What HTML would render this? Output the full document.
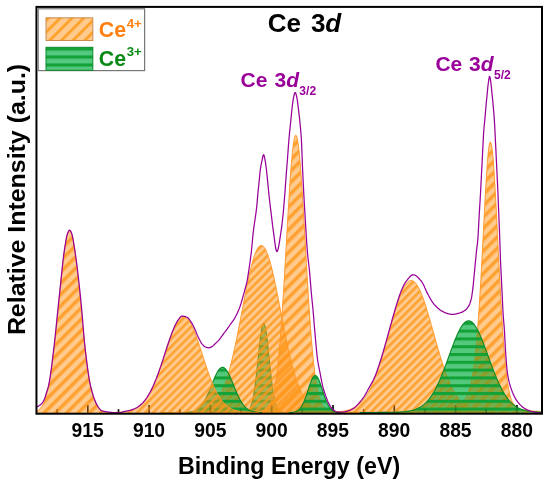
<!DOCTYPE html>
<html><head><meta charset="utf-8"><title>Ce 3d XPS</title>
<style>html,body{margin:0;padding:0;background:#fff}svg{display:block}</style></head>
<body><svg width="550" height="488" viewBox="0 0 550 488">
<rect width="550" height="488" fill="#fff"/>
<defs><pattern id="hn1" width="8.0" height="8.0" patternUnits="userSpaceOnUse" patternTransform="rotate(-45) translate(0,1.43)"><rect x="0" y="0" width="8.0" height="3.5" fill="rgba(255,152,20,0.80)"/></pattern><pattern id="hn4" width="8.0" height="8.0" patternUnits="userSpaceOnUse" patternTransform="rotate(-45) translate(0,4.75)"><rect x="0" y="0" width="8.0" height="3.5" fill="rgba(255,152,20,0.80)"/></pattern><pattern id="hn6" width="8.0" height="8.0" patternUnits="userSpaceOnUse" patternTransform="rotate(-45) translate(0,5.46)"><rect x="0" y="0" width="8.0" height="3.5" fill="rgba(255,152,20,0.80)"/></pattern><pattern id="hb2" width="5.657" height="5.657" patternUnits="userSpaceOnUse" patternTransform="rotate(-45) translate(0,2.9)"><rect x="0" y="0" width="5.657" height="2.5" fill="rgba(255,152,20,0.80)"/></pattern><pattern id="hb3" width="5.657" height="5.657" patternUnits="userSpaceOnUse" patternTransform="rotate(-45) translate(0,1.0)"><rect x="0" y="0" width="5.657" height="2.5" fill="rgba(255,152,20,0.80)"/></pattern><pattern id="hb5" width="5.657" height="5.657" patternUnits="userSpaceOnUse" patternTransform="rotate(-45) translate(0,3.77)"><rect x="0" y="0" width="5.657" height="2.5" fill="rgba(255,152,20,0.80)"/></pattern><pattern id="hg" width="20" height="7.8" patternUnits="userSpaceOnUse" patternTransform="translate(0,2.0)"><rect x="0" y="0" width="20" height="3.1" fill="#12a238"/></pattern><clipPath id="plot"><rect x="36.45" y="6.9" width="505.55" height="406.8"/></clipPath><pattern id="hl" width="8.27" height="8.27" patternUnits="userSpaceOnUse" patternTransform="rotate(-45) translate(0,4.35)"><rect x="0" y="0" width="8.27" height="2.9" fill="rgba(255,152,20,0.80)"/></pattern><pattern id="hg2" width="20" height="8" patternUnits="userSpaceOnUse" patternTransform="translate(0,47.4)"><rect x="0" y="0" width="20" height="3.2" fill="#12a238"/></pattern></defs>
<line x1="57.1" y1="413.7" x2="57.1" y2="409.2" stroke="#000" stroke-width="1.6"/><line x1="87.8" y1="413.7" x2="87.8" y2="405.09999999999997" stroke="#000" stroke-width="1.6"/><line x1="118.5" y1="413.7" x2="118.5" y2="409.2" stroke="#000" stroke-width="1.6"/><line x1="149.1" y1="413.7" x2="149.1" y2="405.09999999999997" stroke="#000" stroke-width="1.6"/><line x1="179.8" y1="413.7" x2="179.8" y2="409.2" stroke="#000" stroke-width="1.6"/><line x1="210.4" y1="413.7" x2="210.4" y2="405.09999999999997" stroke="#000" stroke-width="1.6"/><line x1="241.1" y1="413.7" x2="241.1" y2="409.2" stroke="#000" stroke-width="1.6"/><line x1="271.7" y1="413.7" x2="271.7" y2="405.09999999999997" stroke="#000" stroke-width="1.6"/><line x1="302.3" y1="413.7" x2="302.3" y2="409.2" stroke="#000" stroke-width="1.6"/><line x1="333.0" y1="413.7" x2="333.0" y2="405.09999999999997" stroke="#000" stroke-width="1.6"/><line x1="363.7" y1="413.7" x2="363.7" y2="409.2" stroke="#000" stroke-width="1.6"/><line x1="394.3" y1="413.7" x2="394.3" y2="405.09999999999997" stroke="#000" stroke-width="1.6"/><line x1="424.9" y1="413.7" x2="424.9" y2="409.2" stroke="#000" stroke-width="1.6"/><line x1="455.6" y1="413.7" x2="455.6" y2="405.09999999999997" stroke="#000" stroke-width="1.6"/><line x1="486.2" y1="413.7" x2="486.2" y2="409.2" stroke="#000" stroke-width="1.6"/><line x1="516.9" y1="413.7" x2="516.9" y2="405.09999999999997" stroke="#000" stroke-width="1.6"/>
<g clip-path="url(#plot)">
<path d="M241.4,413.7 L241.4,412.6 242.4,412.5 243.4,412.4 244.4,412.3 245.4,412.1 246.4,411.8 247.4,411.3 248.4,410.5 249.4,409.2 250.4,407.4 251.4,404.8 252.4,401.2 253.4,396.5 254.4,390.6 255.4,383.3 256.4,374.9 257.4,365.6 258.4,355.9 259.4,346.3 260.4,337.6 261.4,330.4 262.4,325.5 263.4,323.3 264.4,324.0 265.4,327.6 266.4,333.7 267.4,341.8 268.4,351.0 269.4,360.8 270.4,370.3 271.4,379.2 272.4,387.1 273.4,393.7 274.4,399.0 275.4,403.1 276.4,406.2 277.4,408.4 278.4,409.9 279.4,410.9 280.4,411.6 281.4,412.0 282.4,412.2 283.4,412.4 284.4,412.5 285.4,412.5 286.4,412.6 L286.4,413.7 Z" fill="rgba(20,180,80,0.72)"/><path d="M241.4,413.7 L241.4,412.6 242.4,412.5 243.4,412.4 244.4,412.3 245.4,412.1 246.4,411.8 247.4,411.3 248.4,410.5 249.4,409.2 250.4,407.4 251.4,404.8 252.4,401.2 253.4,396.5 254.4,390.6 255.4,383.3 256.4,374.9 257.4,365.6 258.4,355.9 259.4,346.3 260.4,337.6 261.4,330.4 262.4,325.5 263.4,323.3 264.4,324.0 265.4,327.6 266.4,333.7 267.4,341.8 268.4,351.0 269.4,360.8 270.4,370.3 271.4,379.2 272.4,387.1 273.4,393.7 274.4,399.0 275.4,403.1 276.4,406.2 277.4,408.4 278.4,409.9 279.4,410.9 280.4,411.6 281.4,412.0 282.4,412.2 283.4,412.4 284.4,412.5 285.4,412.5 286.4,412.6 L286.4,413.7 Z" fill="url(#hg)" stroke="#0b8a2a" stroke-width="1.1"/>
<path d="M183.4,413.7 L183.4,412.6 184.4,412.5 185.4,412.5 186.4,412.4 187.4,412.4 188.4,412.3 189.4,412.1 190.4,412.0 191.4,411.8 192.4,411.5 193.4,411.2 194.4,410.8 195.4,410.4 196.4,409.9 197.4,409.2 198.4,408.5 199.4,407.6 200.4,406.6 201.4,405.4 202.4,404.1 203.4,402.6 204.4,400.9 205.4,399.1 206.4,397.1 207.4,395.0 208.4,392.8 209.4,390.4 210.4,388.0 211.4,385.5 212.4,383.0 213.4,380.6 214.4,378.2 215.4,376.0 216.4,373.9 217.4,372.0 218.4,370.4 219.4,369.1 220.4,368.2 221.4,367.5 222.4,367.3 223.4,367.4 224.4,367.9 225.4,368.8 226.4,370.0 227.4,371.5 228.4,373.3 229.4,375.3 230.4,377.5 231.4,379.9 232.4,382.3 233.4,384.8 234.4,387.2 235.4,389.7 236.4,392.1 237.4,394.3 238.4,396.5 239.4,398.5 240.4,400.4 241.4,402.1 242.4,403.6 243.4,405.0 244.4,406.2 245.4,407.3 246.4,408.2 247.4,409.0 248.4,409.7 249.4,410.2 250.4,410.7 251.4,411.1 252.4,411.4 253.4,411.7 254.4,411.9 255.4,412.1 256.4,412.2 257.4,412.3 258.4,412.4 259.4,412.5 260.4,412.5 261.4,412.6 L261.4,413.7 Z" fill="rgba(3,207,107,0.45)"/>
<path d="M289.4,413.7 L289.4,412.6 290.4,412.5 291.4,412.4 292.4,412.3 293.4,412.2 294.4,412.0 295.4,411.7 296.4,411.3 297.4,410.8 298.4,410.1 299.4,409.2 300.4,408.1 301.4,406.7 302.4,405.0 303.4,403.0 304.4,400.6 305.4,398.0 306.4,395.2 307.4,392.2 308.4,389.1 309.4,386.0 310.4,383.1 311.4,380.5 312.4,378.3 313.4,376.7 314.4,375.8 315.4,375.5 316.4,376.0 317.4,377.1 318.4,378.9 319.4,381.3 320.4,384.0 321.4,386.9 322.4,390.0 323.4,393.1 324.4,396.1 325.4,398.8 326.4,401.4 327.4,403.6 328.4,405.5 329.4,407.1 330.4,408.4 331.4,409.5 332.4,410.3 333.4,411.0 334.4,411.4 335.4,411.8 336.4,412.1 337.4,412.2 338.4,412.4 339.4,412.5 340.4,412.5 341.4,412.6 L341.4,413.7 Z" fill="rgba(3,207,107,0.45)"/>
<path d="M360.4,413.7 L360.4,412.6 361.4,412.5 362.4,412.5 363.4,412.5 364.4,412.5 365.4,412.5 366.4,412.5 367.4,412.5 368.4,412.5 369.4,412.5 370.4,412.5 371.4,412.5 372.4,412.5 373.4,412.5 374.4,412.5 375.4,412.5 376.4,412.5 377.4,412.5 378.4,412.4 379.4,412.4 380.4,412.4 381.4,412.4 382.4,412.4 383.4,412.4 384.4,412.4 385.4,412.4 386.4,412.4 387.4,412.4 388.4,412.3 389.4,412.3 390.4,412.3 391.4,412.3 392.4,412.3 393.4,412.2 394.4,412.2 395.4,412.2 396.4,412.1 397.4,412.1 398.4,412.1 399.4,412.0 400.4,412.0 401.4,411.9 402.4,411.8 403.4,411.7 404.4,411.7 405.4,411.5 406.4,411.4 407.4,411.3 408.4,411.1 409.4,411.0 410.4,410.8 411.4,410.6 412.4,410.3 413.4,410.1 414.4,409.7 415.4,409.4 416.4,409.0 417.4,408.6 418.4,408.1 419.4,407.6 420.4,407.0 421.4,406.4 422.4,405.7 423.4,404.9 424.4,404.1 425.4,403.2 426.4,402.2 427.4,401.1 428.4,400.0 429.4,398.7 430.4,397.4 431.4,395.9 432.4,394.4 433.4,392.8 434.4,391.0 435.4,389.2 436.4,387.2 437.4,385.2 438.4,383.1 439.4,380.9 440.4,378.5 441.4,376.2 442.4,373.7 443.4,371.1 444.4,368.5 445.4,365.9 446.4,363.2 447.4,360.4 448.4,357.7 449.4,354.9 450.4,352.1 451.4,349.4 452.4,346.7 453.4,344.1 454.4,341.5 455.4,339.0 456.4,336.6 457.4,334.3 458.4,332.2 459.4,330.2 460.4,328.3 461.4,326.6 462.4,325.2 463.4,323.9 464.4,322.8 465.4,322.0 466.4,321.3 467.4,321.0 468.4,320.8 469.4,320.9 470.4,321.2 471.4,321.8 472.4,322.5 473.4,323.5 474.4,324.8 475.4,326.2 476.4,327.8 477.4,329.6 478.4,331.5 479.4,333.6 480.4,335.9 481.4,338.3 482.4,340.7 483.4,343.3 484.4,345.9 485.4,348.6 486.4,351.3 487.4,354.1 488.4,356.8 489.4,359.6 490.4,362.3 491.4,365.1 492.4,367.7 493.4,370.4 494.4,372.9 495.4,375.4 496.4,377.8 497.4,380.2 498.4,382.4 499.4,384.6 500.4,386.6 501.4,388.6 502.4,390.5 503.4,392.2 504.4,393.9 505.4,395.5 506.4,396.9 507.4,398.3 508.4,399.6 509.4,400.8 510.4,401.9 511.4,402.9 512.5,403.8 513.5,404.7 514.5,405.5 515.5,406.2 516.5,406.8 517.5,407.4 518.5,408.0 519.5,408.5 520.5,408.9 521.5,409.3 522.5,409.6 523.5,410.0 524.5,410.2 525.5,410.5 526.5,410.7 527.5,410.9 528.5,411.1 529.5,411.3 530.5,411.4 531.5,411.5 532.5,411.6 533.5,411.7 534.5,411.8 535.5,411.9 536.5,411.9 537.5,412.0 538.5,412.0 539.5,412.1 540.5,412.1 541.5,412.2 L541.5,413.7 Z" fill="rgba(3,207,107,0.45)"/>
<path d="M36.5,413.7 L36.5,411.2 37.5,410.7 38.5,410.1 39.5,409.2 40.5,408.2 41.5,406.9 42.5,405.3 43.5,403.4 44.5,401.0 45.5,398.2 46.5,394.9 47.5,391.0 48.5,386.5 49.5,381.3 50.5,375.5 51.5,369.0 52.5,361.7 53.5,353.8 54.5,345.2 55.5,336.1 56.5,326.5 57.5,316.5 58.5,306.2 59.5,295.9 60.5,285.7 61.5,275.9 62.5,266.5 63.5,257.8 64.5,250.0 65.5,243.5 66.5,237.9 67.5,233.8 68.5,231.4 69.5,230.2 70.5,230.9 71.5,233.0 72.5,236.5 73.5,241.7 74.5,248.0 75.5,255.4 76.5,263.8 77.5,273.0 78.5,282.7 79.5,292.9 80.5,303.1 81.5,313.4 82.5,323.5 83.5,333.2 84.5,342.5 85.5,351.3 86.5,359.6 87.5,367.4 88.5,374.5 89.5,380.6 90.5,385.6 91.5,389.7 92.5,393.8 93.5,397.3 94.5,400.2 95.5,402.7 96.5,404.8 97.5,406.5 98.5,407.8 99.5,409.0 100.5,409.9 101.5,410.7 102.5,411.1 103.5,411.5 104.5,411.9 105.5,412.1 106.5,412.3 107.5,412.4 108.5,412.5 109.5,412.6 L109.5,413.7 Z" fill="url(#hn1)"/><path d="M36.5,413.7 L36.5,411.2 37.5,410.7 38.5,410.1 39.5,409.2 40.5,408.2 41.5,406.9 42.5,405.3 43.5,403.4 44.5,401.0 45.5,398.2 46.5,394.9 47.5,391.0 48.5,386.5 49.5,381.3 50.5,375.5 51.5,369.0 52.5,361.7 53.5,353.8 54.5,345.2 55.5,336.1 56.5,326.5 57.5,316.5 58.5,306.2 59.5,295.9 60.5,285.7 61.5,275.9 62.5,266.5 63.5,257.8 64.5,250.0 65.5,243.5 66.5,237.9 67.5,233.8 68.5,231.4 69.5,230.2 70.5,230.9 71.5,233.0 72.5,236.5 73.5,241.7 74.5,248.0 75.5,255.4 76.5,263.8 77.5,273.0 78.5,282.7 79.5,292.9 80.5,303.1 81.5,313.4 82.5,323.5 83.5,333.2 84.5,342.5 85.5,351.3 86.5,359.6 87.5,367.4 88.5,374.5 89.5,380.6 90.5,385.6 91.5,389.7 92.5,393.8 93.5,397.3 94.5,400.2 95.5,402.7 96.5,404.8 97.5,406.5 98.5,407.8 99.5,409.0 100.5,409.9 101.5,410.7 102.5,411.1 103.5,411.5 104.5,411.9 105.5,412.1 106.5,412.3 107.5,412.4 108.5,412.5 109.5,412.6 L109.5,413.7 Z" fill="rgba(255,150,30,0.50)" stroke="#ff9a2e" stroke-width="1"/>
<path d="M161.4,413.7 L161.4,412.6 162.4,412.5 163.4,412.5 164.4,412.5 165.4,412.5 166.4,412.5 167.4,412.5 168.4,412.5 169.4,412.5 170.4,412.5 171.4,412.5 172.4,412.5 173.4,412.5 174.4,412.5 175.4,412.5 176.4,412.5 177.4,412.4 178.4,412.4 179.4,412.4 180.4,412.4 181.4,412.4 182.4,412.4 183.4,412.4 184.4,412.3 185.4,412.3 186.4,412.3 187.4,412.3 188.4,412.2 189.4,412.2 190.4,412.2 191.4,412.1 192.4,412.0 193.4,412.0 194.4,411.9 195.4,411.8 196.4,411.7 197.4,411.6 198.4,411.4 199.4,411.3 200.4,411.1 201.4,410.9 202.4,410.6 203.4,410.4 204.4,410.1 205.4,409.7 206.4,409.3 207.4,408.8 208.4,408.3 209.4,407.7 210.4,407.0 211.4,406.3 212.4,405.5 213.4,404.5 214.4,403.5 215.4,402.3 216.4,401.1 217.4,399.7 218.4,398.1 219.4,396.4 220.4,394.6 221.4,392.6 222.4,390.4 223.4,388.0 224.4,385.5 225.4,382.8 226.4,379.8 227.4,376.7 228.4,373.4 229.4,369.9 230.4,366.2 231.4,362.2 232.4,358.1 233.4,353.9 234.4,349.4 235.4,344.8 236.4,340.0 237.4,335.1 238.4,330.1 239.4,325.0 240.4,319.8 241.4,314.6 242.4,309.4 243.4,304.1 244.4,298.9 245.4,293.8 246.4,288.7 247.4,283.8 248.4,279.1 249.4,274.5 250.4,270.2 251.4,266.1 252.4,262.4 253.4,258.9 254.4,255.8 255.4,253.1 256.4,250.7 257.4,248.8 258.4,247.3 259.4,246.2 260.4,245.6 261.4,245.4 262.4,245.7 263.4,246.4 264.4,247.6 265.4,249.2 266.4,251.2 267.4,253.7 268.4,256.5 269.4,259.6 270.4,263.1 271.4,266.9 272.4,271.0 273.4,275.3 274.4,279.8 275.4,284.5 276.4,289.4 277.4,294.4 278.4,299.5 279.4,304.7 280.4,309.8 281.4,315.0 282.4,320.2 283.4,325.3 284.4,330.4 285.4,335.3 286.4,340.1 287.4,344.9 288.4,349.4 289.4,353.8 290.4,358.1 291.4,362.1 292.4,366.0 293.4,369.7 294.4,373.2 295.4,376.5 296.4,379.6 297.4,382.5 298.4,385.2 299.4,387.8 300.4,390.1 301.4,392.3 302.4,394.3 303.4,396.1 304.4,397.8 305.4,399.4 306.4,400.8 307.4,402.1 308.4,403.2 309.4,404.3 310.4,405.2 311.4,406.1 312.4,406.8 313.4,407.5 314.4,408.1 315.4,408.7 316.4,409.1 317.4,409.6 318.4,409.9 319.4,410.3 320.4,410.6 321.4,410.8 322.4,411.0 323.4,411.2 324.4,411.4 325.4,411.5 326.4,411.7 327.4,411.8 328.4,411.9 329.4,411.9 330.4,412.0 331.4,412.1 332.4,412.1 333.4,412.2 334.4,412.2 335.4,412.2 336.4,412.3 337.4,412.3 338.4,412.3 339.4,412.4 340.4,412.4 341.4,412.4 342.4,412.4 343.4,412.4 344.4,412.4 345.4,412.4 346.4,412.5 347.4,412.5 348.4,412.5 349.4,412.5 350.4,412.5 351.4,412.5 352.4,412.5 353.4,412.5 354.4,412.5 355.4,412.5 356.4,412.5 357.4,412.5 358.4,412.5 359.4,412.5 360.4,412.5 361.4,412.6 L361.4,413.7 Z" fill="url(#hb3)"/><path d="M161.4,413.7 L161.4,412.6 162.4,412.5 163.4,412.5 164.4,412.5 165.4,412.5 166.4,412.5 167.4,412.5 168.4,412.5 169.4,412.5 170.4,412.5 171.4,412.5 172.4,412.5 173.4,412.5 174.4,412.5 175.4,412.5 176.4,412.5 177.4,412.4 178.4,412.4 179.4,412.4 180.4,412.4 181.4,412.4 182.4,412.4 183.4,412.4 184.4,412.3 185.4,412.3 186.4,412.3 187.4,412.3 188.4,412.2 189.4,412.2 190.4,412.2 191.4,412.1 192.4,412.0 193.4,412.0 194.4,411.9 195.4,411.8 196.4,411.7 197.4,411.6 198.4,411.4 199.4,411.3 200.4,411.1 201.4,410.9 202.4,410.6 203.4,410.4 204.4,410.1 205.4,409.7 206.4,409.3 207.4,408.8 208.4,408.3 209.4,407.7 210.4,407.0 211.4,406.3 212.4,405.5 213.4,404.5 214.4,403.5 215.4,402.3 216.4,401.1 217.4,399.7 218.4,398.1 219.4,396.4 220.4,394.6 221.4,392.6 222.4,390.4 223.4,388.0 224.4,385.5 225.4,382.8 226.4,379.8 227.4,376.7 228.4,373.4 229.4,369.9 230.4,366.2 231.4,362.2 232.4,358.1 233.4,353.9 234.4,349.4 235.4,344.8 236.4,340.0 237.4,335.1 238.4,330.1 239.4,325.0 240.4,319.8 241.4,314.6 242.4,309.4 243.4,304.1 244.4,298.9 245.4,293.8 246.4,288.7 247.4,283.8 248.4,279.1 249.4,274.5 250.4,270.2 251.4,266.1 252.4,262.4 253.4,258.9 254.4,255.8 255.4,253.1 256.4,250.7 257.4,248.8 258.4,247.3 259.4,246.2 260.4,245.6 261.4,245.4 262.4,245.7 263.4,246.4 264.4,247.6 265.4,249.2 266.4,251.2 267.4,253.7 268.4,256.5 269.4,259.6 270.4,263.1 271.4,266.9 272.4,271.0 273.4,275.3 274.4,279.8 275.4,284.5 276.4,289.4 277.4,294.4 278.4,299.5 279.4,304.7 280.4,309.8 281.4,315.0 282.4,320.2 283.4,325.3 284.4,330.4 285.4,335.3 286.4,340.1 287.4,344.9 288.4,349.4 289.4,353.8 290.4,358.1 291.4,362.1 292.4,366.0 293.4,369.7 294.4,373.2 295.4,376.5 296.4,379.6 297.4,382.5 298.4,385.2 299.4,387.8 300.4,390.1 301.4,392.3 302.4,394.3 303.4,396.1 304.4,397.8 305.4,399.4 306.4,400.8 307.4,402.1 308.4,403.2 309.4,404.3 310.4,405.2 311.4,406.1 312.4,406.8 313.4,407.5 314.4,408.1 315.4,408.7 316.4,409.1 317.4,409.6 318.4,409.9 319.4,410.3 320.4,410.6 321.4,410.8 322.4,411.0 323.4,411.2 324.4,411.4 325.4,411.5 326.4,411.7 327.4,411.8 328.4,411.9 329.4,411.9 330.4,412.0 331.4,412.1 332.4,412.1 333.4,412.2 334.4,412.2 335.4,412.2 336.4,412.3 337.4,412.3 338.4,412.3 339.4,412.4 340.4,412.4 341.4,412.4 342.4,412.4 343.4,412.4 344.4,412.4 345.4,412.4 346.4,412.5 347.4,412.5 348.4,412.5 349.4,412.5 350.4,412.5 351.4,412.5 352.4,412.5 353.4,412.5 354.4,412.5 355.4,412.5 356.4,412.5 357.4,412.5 358.4,412.5 359.4,412.5 360.4,412.5 361.4,412.6 L361.4,413.7 Z" fill="rgba(255,150,30,0.50)" stroke="#ff9a2e" stroke-width="1"/>
<path d="M212.4,413.7 L212.4,412.6 213.4,412.5 214.4,412.5 215.4,412.5 216.4,412.5 217.4,412.5 218.4,412.5 219.4,412.5 220.4,412.5 221.4,412.5 222.4,412.5 223.4,412.5 224.4,412.5 225.4,412.5 226.4,412.4 227.4,412.4 228.4,412.4 229.4,412.4 230.4,412.4 231.4,412.4 232.4,412.4 233.4,412.4 234.4,412.4 235.4,412.3 236.4,412.3 237.4,412.3 238.4,412.3 239.4,412.3 240.4,412.3 241.4,412.2 242.4,412.2 243.4,412.2 244.4,412.2 245.4,412.1 246.4,412.1 247.4,412.1 248.4,412.1 249.4,412.0 250.4,412.0 251.4,412.0 252.4,411.9 253.4,411.9 254.4,411.8 255.4,411.8 256.4,411.7 257.4,411.6 258.4,411.5 259.4,411.4 260.4,411.3 261.4,411.1 262.4,410.8 263.4,410.5 264.4,410.1 265.4,409.5 266.4,408.8 267.4,407.9 268.4,406.6 269.4,405.1 270.4,403.1 271.4,400.5 272.4,397.4 273.4,393.5 274.4,388.8 275.4,383.1 276.4,376.3 277.4,368.4 278.4,359.2 279.4,348.7 280.4,336.8 281.4,323.7 282.4,309.2 283.4,293.7 284.4,277.3 285.4,260.2 286.4,242.7 287.4,225.2 288.4,208.1 289.4,191.9 290.4,176.9 291.4,163.6 292.4,152.5 293.4,143.9 294.4,138.1 295.4,135.3 296.4,135.6 297.4,139.0 298.4,145.4 299.4,154.5 300.4,166.1 301.4,179.8 302.4,195.0 303.4,211.5 304.4,228.7 305.4,246.2 306.4,263.6 307.4,280.6 308.4,296.9 309.4,312.2 310.4,326.4 311.4,339.3 312.4,350.9 313.4,361.1 314.4,370.1 315.4,377.8 316.4,384.3 317.4,389.8 318.4,394.4 319.4,398.1 320.4,401.1 321.4,403.5 322.4,405.4 323.4,406.9 324.4,408.1 325.4,409.0 326.4,409.7 327.4,410.2 328.4,410.6 329.4,410.9 330.4,411.1 331.4,411.3 332.4,411.4 333.4,411.6 334.4,411.7 335.4,411.7 336.4,411.8 337.4,411.8 338.4,411.9 339.4,411.9 340.4,412.0 341.4,412.0 342.4,412.0 343.4,412.1 344.4,412.1 345.4,412.1 346.4,412.2 347.4,412.2 348.4,412.2 349.4,412.2 350.4,412.2 351.4,412.3 352.4,412.3 353.4,412.3 354.4,412.3 355.4,412.3 356.4,412.3 357.4,412.4 358.4,412.4 359.4,412.4 360.4,412.4 361.4,412.4 362.4,412.4 363.4,412.4 364.4,412.4 365.4,412.4 366.4,412.5 367.4,412.5 368.4,412.5 369.4,412.5 370.4,412.5 371.4,412.5 372.4,412.5 373.4,412.5 374.4,412.5 375.4,412.5 376.4,412.5 377.4,412.5 378.4,412.5 379.4,412.6 L379.4,413.7 Z" fill="url(#hn4)"/><path d="M212.4,413.7 L212.4,412.6 213.4,412.5 214.4,412.5 215.4,412.5 216.4,412.5 217.4,412.5 218.4,412.5 219.4,412.5 220.4,412.5 221.4,412.5 222.4,412.5 223.4,412.5 224.4,412.5 225.4,412.5 226.4,412.4 227.4,412.4 228.4,412.4 229.4,412.4 230.4,412.4 231.4,412.4 232.4,412.4 233.4,412.4 234.4,412.4 235.4,412.3 236.4,412.3 237.4,412.3 238.4,412.3 239.4,412.3 240.4,412.3 241.4,412.2 242.4,412.2 243.4,412.2 244.4,412.2 245.4,412.1 246.4,412.1 247.4,412.1 248.4,412.1 249.4,412.0 250.4,412.0 251.4,412.0 252.4,411.9 253.4,411.9 254.4,411.8 255.4,411.8 256.4,411.7 257.4,411.6 258.4,411.5 259.4,411.4 260.4,411.3 261.4,411.1 262.4,410.8 263.4,410.5 264.4,410.1 265.4,409.5 266.4,408.8 267.4,407.9 268.4,406.6 269.4,405.1 270.4,403.1 271.4,400.5 272.4,397.4 273.4,393.5 274.4,388.8 275.4,383.1 276.4,376.3 277.4,368.4 278.4,359.2 279.4,348.7 280.4,336.8 281.4,323.7 282.4,309.2 283.4,293.7 284.4,277.3 285.4,260.2 286.4,242.7 287.4,225.2 288.4,208.1 289.4,191.9 290.4,176.9 291.4,163.6 292.4,152.5 293.4,143.9 294.4,138.1 295.4,135.3 296.4,135.6 297.4,139.0 298.4,145.4 299.4,154.5 300.4,166.1 301.4,179.8 302.4,195.0 303.4,211.5 304.4,228.7 305.4,246.2 306.4,263.6 307.4,280.6 308.4,296.9 309.4,312.2 310.4,326.4 311.4,339.3 312.4,350.9 313.4,361.1 314.4,370.1 315.4,377.8 316.4,384.3 317.4,389.8 318.4,394.4 319.4,398.1 320.4,401.1 321.4,403.5 322.4,405.4 323.4,406.9 324.4,408.1 325.4,409.0 326.4,409.7 327.4,410.2 328.4,410.6 329.4,410.9 330.4,411.1 331.4,411.3 332.4,411.4 333.4,411.6 334.4,411.7 335.4,411.7 336.4,411.8 337.4,411.8 338.4,411.9 339.4,411.9 340.4,412.0 341.4,412.0 342.4,412.0 343.4,412.1 344.4,412.1 345.4,412.1 346.4,412.2 347.4,412.2 348.4,412.2 349.4,412.2 350.4,412.2 351.4,412.3 352.4,412.3 353.4,412.3 354.4,412.3 355.4,412.3 356.4,412.3 357.4,412.4 358.4,412.4 359.4,412.4 360.4,412.4 361.4,412.4 362.4,412.4 363.4,412.4 364.4,412.4 365.4,412.4 366.4,412.5 367.4,412.5 368.4,412.5 369.4,412.5 370.4,412.5 371.4,412.5 372.4,412.5 373.4,412.5 374.4,412.5 375.4,412.5 376.4,412.5 377.4,412.5 378.4,412.5 379.4,412.6 L379.4,413.7 Z" fill="rgba(255,150,30,0.50)" stroke="#ff9a2e" stroke-width="1"/>
<path d="M309.4,413.7 L309.4,412.6 310.4,412.5 311.4,412.5 312.4,412.5 313.4,412.5 314.4,412.5 315.4,412.5 316.4,412.5 317.4,412.5 318.4,412.5 319.4,412.5 320.4,412.5 321.4,412.5 322.4,412.4 323.4,412.4 324.4,412.4 325.4,412.4 326.4,412.4 327.4,412.4 328.4,412.3 329.4,412.3 330.4,412.3 331.4,412.2 332.4,412.2 333.4,412.1 334.4,412.1 335.4,412.0 336.4,412.0 337.4,411.9 338.4,411.8 339.4,411.7 340.4,411.6 341.4,411.4 342.4,411.3 343.4,411.1 344.4,410.9 345.4,410.7 346.4,410.5 347.4,410.2 348.4,410.0 349.4,409.6 350.4,409.3 351.4,408.9 352.4,408.4 353.4,407.9 354.4,407.4 355.4,406.8 356.4,406.1 357.4,405.4 358.4,404.6 359.4,403.8 360.4,402.8 361.4,401.8 362.4,400.7 363.4,399.5 364.4,398.2 365.4,396.8 366.4,395.3 367.4,393.7 368.4,392.0 369.4,390.2 370.4,388.3 371.4,386.2 372.4,384.0 373.4,381.7 374.4,379.3 375.4,376.8 376.4,374.1 377.4,371.4 378.4,368.5 379.4,365.5 380.4,362.4 381.4,359.3 382.4,356.0 383.4,352.6 384.4,349.2 385.4,345.7 386.4,342.2 387.4,338.6 388.4,335.0 389.4,331.4 390.4,327.8 391.4,324.2 392.4,320.6 393.4,317.1 394.4,313.7 395.4,310.3 396.4,307.0 397.4,303.9 398.4,300.9 399.4,298.0 400.4,295.3 401.4,292.8 402.4,290.5 403.4,288.4 404.4,286.5 405.4,284.9 406.4,283.5 407.4,282.3 408.4,281.4 409.4,280.8 410.4,280.5 411.4,280.4 412.4,280.6 413.4,281.1 414.4,281.8 415.4,282.8 416.4,284.1 417.4,285.6 418.4,287.3 419.4,289.3 420.4,291.4 421.4,293.8 422.4,296.4 423.4,299.1 424.4,302.0 425.4,305.0 426.4,308.2 427.4,311.5 428.4,314.8 429.4,318.3 430.4,321.8 431.4,325.3 432.4,328.9 433.4,332.4 434.4,336.0 435.4,339.6 436.4,343.1 437.4,346.6 438.4,350.0 439.4,353.4 440.4,356.7 441.4,359.9 442.4,363.1 443.4,366.1 444.4,369.0 445.4,371.9 446.4,374.6 447.4,377.2 448.4,379.7 449.4,382.1 450.4,384.3 451.4,386.4 452.4,388.5 453.4,390.4 454.4,392.2 455.4,393.8 456.4,395.4 457.4,396.9 458.4,398.3 459.4,399.5 460.4,400.7 461.4,401.8 462.4,402.8 463.4,403.8 464.4,404.6 465.4,405.4 466.4,406.1 467.4,406.8 468.4,407.4 469.4,407.9 470.4,408.4 471.4,408.8 472.4,409.2 473.4,409.6 474.4,409.9 475.4,410.2 476.4,410.5 477.4,410.7 478.4,410.9 479.4,411.1 480.4,411.3 481.4,411.4 482.4,411.5 483.4,411.7 484.4,411.8 485.4,411.9 486.4,411.9 487.4,412.0 488.4,412.1 489.4,412.1 490.4,412.2 491.4,412.2 492.4,412.3 493.4,412.3 494.4,412.3 495.4,412.3 496.4,412.4 497.4,412.4 498.4,412.4 499.4,412.4 500.4,412.4 501.4,412.5 502.4,412.5 503.4,412.5 504.4,412.5 505.4,412.5 506.4,412.5 507.4,412.5 508.4,412.5 509.4,412.5 510.4,412.5 511.4,412.5 512.5,412.5 513.5,412.6 L513.5,413.7 Z" fill="url(#hb5)"/><path d="M309.4,413.7 L309.4,412.6 310.4,412.5 311.4,412.5 312.4,412.5 313.4,412.5 314.4,412.5 315.4,412.5 316.4,412.5 317.4,412.5 318.4,412.5 319.4,412.5 320.4,412.5 321.4,412.5 322.4,412.4 323.4,412.4 324.4,412.4 325.4,412.4 326.4,412.4 327.4,412.4 328.4,412.3 329.4,412.3 330.4,412.3 331.4,412.2 332.4,412.2 333.4,412.1 334.4,412.1 335.4,412.0 336.4,412.0 337.4,411.9 338.4,411.8 339.4,411.7 340.4,411.6 341.4,411.4 342.4,411.3 343.4,411.1 344.4,410.9 345.4,410.7 346.4,410.5 347.4,410.2 348.4,410.0 349.4,409.6 350.4,409.3 351.4,408.9 352.4,408.4 353.4,407.9 354.4,407.4 355.4,406.8 356.4,406.1 357.4,405.4 358.4,404.6 359.4,403.8 360.4,402.8 361.4,401.8 362.4,400.7 363.4,399.5 364.4,398.2 365.4,396.8 366.4,395.3 367.4,393.7 368.4,392.0 369.4,390.2 370.4,388.3 371.4,386.2 372.4,384.0 373.4,381.7 374.4,379.3 375.4,376.8 376.4,374.1 377.4,371.4 378.4,368.5 379.4,365.5 380.4,362.4 381.4,359.3 382.4,356.0 383.4,352.6 384.4,349.2 385.4,345.7 386.4,342.2 387.4,338.6 388.4,335.0 389.4,331.4 390.4,327.8 391.4,324.2 392.4,320.6 393.4,317.1 394.4,313.7 395.4,310.3 396.4,307.0 397.4,303.9 398.4,300.9 399.4,298.0 400.4,295.3 401.4,292.8 402.4,290.5 403.4,288.4 404.4,286.5 405.4,284.9 406.4,283.5 407.4,282.3 408.4,281.4 409.4,280.8 410.4,280.5 411.4,280.4 412.4,280.6 413.4,281.1 414.4,281.8 415.4,282.8 416.4,284.1 417.4,285.6 418.4,287.3 419.4,289.3 420.4,291.4 421.4,293.8 422.4,296.4 423.4,299.1 424.4,302.0 425.4,305.0 426.4,308.2 427.4,311.5 428.4,314.8 429.4,318.3 430.4,321.8 431.4,325.3 432.4,328.9 433.4,332.4 434.4,336.0 435.4,339.6 436.4,343.1 437.4,346.6 438.4,350.0 439.4,353.4 440.4,356.7 441.4,359.9 442.4,363.1 443.4,366.1 444.4,369.0 445.4,371.9 446.4,374.6 447.4,377.2 448.4,379.7 449.4,382.1 450.4,384.3 451.4,386.4 452.4,388.5 453.4,390.4 454.4,392.2 455.4,393.8 456.4,395.4 457.4,396.9 458.4,398.3 459.4,399.5 460.4,400.7 461.4,401.8 462.4,402.8 463.4,403.8 464.4,404.6 465.4,405.4 466.4,406.1 467.4,406.8 468.4,407.4 469.4,407.9 470.4,408.4 471.4,408.8 472.4,409.2 473.4,409.6 474.4,409.9 475.4,410.2 476.4,410.5 477.4,410.7 478.4,410.9 479.4,411.1 480.4,411.3 481.4,411.4 482.4,411.5 483.4,411.7 484.4,411.8 485.4,411.9 486.4,411.9 487.4,412.0 488.4,412.1 489.4,412.1 490.4,412.2 491.4,412.2 492.4,412.3 493.4,412.3 494.4,412.3 495.4,412.3 496.4,412.4 497.4,412.4 498.4,412.4 499.4,412.4 500.4,412.4 501.4,412.5 502.4,412.5 503.4,412.5 504.4,412.5 505.4,412.5 506.4,412.5 507.4,412.5 508.4,412.5 509.4,412.5 510.4,412.5 511.4,412.5 512.5,412.5 513.5,412.6 L513.5,413.7 Z" fill="rgba(255,150,30,0.50)" stroke="#ff9a2e" stroke-width="1"/>
<path d="M295.4,413.7 L295.4,412.6 296.4,412.5 297.4,412.5 298.4,412.5 299.4,412.5 300.4,412.5 301.4,412.5 302.4,412.5 303.4,412.5 304.4,412.5 305.4,412.5 306.4,412.5 307.4,412.5 308.4,412.5 309.4,412.5 310.4,412.5 311.4,412.5 312.4,412.5 313.4,412.5 314.4,412.5 315.4,412.5 316.4,412.5 317.4,412.5 318.4,412.5 319.4,412.5 320.4,412.5 321.4,412.5 322.4,412.5 323.4,412.5 324.4,412.5 325.4,412.5 326.4,412.4 327.4,412.4 328.4,412.4 329.4,412.4 330.4,412.4 331.4,412.4 332.4,412.4 333.4,412.4 334.4,412.4 335.4,412.4 336.4,412.4 337.4,412.4 338.4,412.4 339.4,412.4 340.4,412.4 341.4,412.4 342.4,412.4 343.4,412.4 344.4,412.4 345.4,412.4 346.4,412.3 347.4,412.3 348.4,412.3 349.4,412.3 350.4,412.3 351.4,412.3 352.4,412.3 353.4,412.3 354.4,412.3 355.4,412.3 356.4,412.3 357.4,412.3 358.4,412.3 359.4,412.3 360.4,412.2 361.4,412.2 362.4,412.2 363.4,412.2 364.4,412.2 365.4,412.2 366.4,412.2 367.4,412.2 368.4,412.2 369.4,412.2 370.4,412.1 371.4,412.1 372.4,412.1 373.4,412.1 374.4,412.1 375.4,412.1 376.4,412.1 377.4,412.1 378.4,412.0 379.4,412.0 380.4,412.0 381.4,412.0 382.4,412.0 383.4,412.0 384.4,412.0 385.4,411.9 386.4,411.9 387.4,411.9 388.4,411.9 389.4,411.9 390.4,411.9 391.4,411.8 392.4,411.8 393.4,411.8 394.4,411.8 395.4,411.8 396.4,411.7 397.4,411.7 398.4,411.7 399.4,411.7 400.4,411.6 401.4,411.6 402.4,411.6 403.4,411.6 404.4,411.5 405.4,411.5 406.4,411.5 407.4,411.4 408.4,411.4 409.4,411.4 410.4,411.3 411.4,411.3 412.4,411.3 413.4,411.2 414.4,411.2 415.4,411.1 416.4,411.1 417.4,411.0 418.4,411.0 419.4,410.9 420.4,410.9 421.4,410.8 422.4,410.8 423.4,410.7 424.4,410.7 425.4,410.6 426.4,410.5 427.4,410.5 428.4,410.4 429.4,410.3 430.4,410.2 431.4,410.1 432.4,410.0 433.4,410.0 434.4,409.9 435.4,409.7 436.4,409.6 437.4,409.5 438.4,409.4 439.4,409.3 440.4,409.1 441.4,409.0 442.4,408.8 443.4,408.7 444.4,408.5 445.4,408.3 446.4,408.1 447.4,407.9 448.4,407.7 449.4,407.4 450.4,407.2 451.4,406.9 452.4,406.6 453.4,406.3 454.4,405.9 455.4,405.5 456.4,405.1 457.4,404.7 458.4,404.2 459.4,403.7 460.4,403.0 461.4,402.3 462.4,401.6 463.4,400.6 464.4,399.6 465.4,398.3 466.4,396.7 467.4,394.9 468.4,392.6 469.4,389.8 470.4,386.3 471.4,382.1 472.4,377.0 473.4,370.8 474.4,363.4 475.4,354.7 476.4,344.4 477.4,332.6 478.4,319.2 479.4,304.2 480.4,287.8 481.4,270.1 482.4,251.4 483.4,232.1 484.4,212.8 485.4,194.2 486.4,177.1 487.4,162.5 488.4,151.1 489.4,144.1 490.4,141.8 491.4,144.4 492.4,151.4 493.4,162.5 494.4,177.0 495.4,194.1 496.4,213.1 497.4,233.1 498.4,253.4 499.4,273.4 500.4,292.5 501.4,310.4 502.4,326.7 503.4,341.2 504.4,354.0 505.4,364.9 506.4,374.1 507.4,381.7 508.4,387.9 509.4,392.9 510.4,396.8 511.4,399.9 512.5,402.2 513.5,404.0 514.5,405.4 515.5,406.5 516.5,407.3 517.5,407.9 518.5,408.4 519.5,408.8 520.5,409.1 521.5,409.4 522.5,409.6 523.5,409.8 524.5,410.0 525.5,410.1 526.5,410.3 527.5,410.4 528.5,410.5 529.5,410.6 530.5,410.7 531.5,410.8 532.5,410.9 533.5,411.0 534.5,411.1 535.5,411.2 536.5,411.2 537.5,411.3 538.5,411.3 539.5,411.4 540.5,411.5 541.5,411.5 L541.5,413.7 Z" fill="url(#hn6)"/><path d="M295.4,413.7 L295.4,412.6 296.4,412.5 297.4,412.5 298.4,412.5 299.4,412.5 300.4,412.5 301.4,412.5 302.4,412.5 303.4,412.5 304.4,412.5 305.4,412.5 306.4,412.5 307.4,412.5 308.4,412.5 309.4,412.5 310.4,412.5 311.4,412.5 312.4,412.5 313.4,412.5 314.4,412.5 315.4,412.5 316.4,412.5 317.4,412.5 318.4,412.5 319.4,412.5 320.4,412.5 321.4,412.5 322.4,412.5 323.4,412.5 324.4,412.5 325.4,412.5 326.4,412.4 327.4,412.4 328.4,412.4 329.4,412.4 330.4,412.4 331.4,412.4 332.4,412.4 333.4,412.4 334.4,412.4 335.4,412.4 336.4,412.4 337.4,412.4 338.4,412.4 339.4,412.4 340.4,412.4 341.4,412.4 342.4,412.4 343.4,412.4 344.4,412.4 345.4,412.4 346.4,412.3 347.4,412.3 348.4,412.3 349.4,412.3 350.4,412.3 351.4,412.3 352.4,412.3 353.4,412.3 354.4,412.3 355.4,412.3 356.4,412.3 357.4,412.3 358.4,412.3 359.4,412.3 360.4,412.2 361.4,412.2 362.4,412.2 363.4,412.2 364.4,412.2 365.4,412.2 366.4,412.2 367.4,412.2 368.4,412.2 369.4,412.2 370.4,412.1 371.4,412.1 372.4,412.1 373.4,412.1 374.4,412.1 375.4,412.1 376.4,412.1 377.4,412.1 378.4,412.0 379.4,412.0 380.4,412.0 381.4,412.0 382.4,412.0 383.4,412.0 384.4,412.0 385.4,411.9 386.4,411.9 387.4,411.9 388.4,411.9 389.4,411.9 390.4,411.9 391.4,411.8 392.4,411.8 393.4,411.8 394.4,411.8 395.4,411.8 396.4,411.7 397.4,411.7 398.4,411.7 399.4,411.7 400.4,411.6 401.4,411.6 402.4,411.6 403.4,411.6 404.4,411.5 405.4,411.5 406.4,411.5 407.4,411.4 408.4,411.4 409.4,411.4 410.4,411.3 411.4,411.3 412.4,411.3 413.4,411.2 414.4,411.2 415.4,411.1 416.4,411.1 417.4,411.0 418.4,411.0 419.4,410.9 420.4,410.9 421.4,410.8 422.4,410.8 423.4,410.7 424.4,410.7 425.4,410.6 426.4,410.5 427.4,410.5 428.4,410.4 429.4,410.3 430.4,410.2 431.4,410.1 432.4,410.0 433.4,410.0 434.4,409.9 435.4,409.7 436.4,409.6 437.4,409.5 438.4,409.4 439.4,409.3 440.4,409.1 441.4,409.0 442.4,408.8 443.4,408.7 444.4,408.5 445.4,408.3 446.4,408.1 447.4,407.9 448.4,407.7 449.4,407.4 450.4,407.2 451.4,406.9 452.4,406.6 453.4,406.3 454.4,405.9 455.4,405.5 456.4,405.1 457.4,404.7 458.4,404.2 459.4,403.7 460.4,403.0 461.4,402.3 462.4,401.6 463.4,400.6 464.4,399.6 465.4,398.3 466.4,396.7 467.4,394.9 468.4,392.6 469.4,389.8 470.4,386.3 471.4,382.1 472.4,377.0 473.4,370.8 474.4,363.4 475.4,354.7 476.4,344.4 477.4,332.6 478.4,319.2 479.4,304.2 480.4,287.8 481.4,270.1 482.4,251.4 483.4,232.1 484.4,212.8 485.4,194.2 486.4,177.1 487.4,162.5 488.4,151.1 489.4,144.1 490.4,141.8 491.4,144.4 492.4,151.4 493.4,162.5 494.4,177.0 495.4,194.1 496.4,213.1 497.4,233.1 498.4,253.4 499.4,273.4 500.4,292.5 501.4,310.4 502.4,326.7 503.4,341.2 504.4,354.0 505.4,364.9 506.4,374.1 507.4,381.7 508.4,387.9 509.4,392.9 510.4,396.8 511.4,399.9 512.5,402.2 513.5,404.0 514.5,405.4 515.5,406.5 516.5,407.3 517.5,407.9 518.5,408.4 519.5,408.8 520.5,409.1 521.5,409.4 522.5,409.6 523.5,409.8 524.5,410.0 525.5,410.1 526.5,410.3 527.5,410.4 528.5,410.5 529.5,410.6 530.5,410.7 531.5,410.8 532.5,410.9 533.5,411.0 534.5,411.1 535.5,411.2 536.5,411.2 537.5,411.3 538.5,411.3 539.5,411.4 540.5,411.5 541.5,411.5 L541.5,413.7 Z" fill="rgba(255,150,30,0.50)" stroke="#ff9a2e" stroke-width="1"/>
<path d="M183.4,413.7 L183.4,412.6 184.4,412.5 185.4,412.5 186.4,412.4 187.4,412.4 188.4,412.3 189.4,412.1 190.4,412.0 191.4,411.8 192.4,411.5 193.4,411.2 194.4,410.8 195.4,410.4 196.4,409.9 197.4,409.2 198.4,408.5 199.4,407.6 200.4,406.6 201.4,405.4 202.4,404.1 203.4,402.6 204.4,400.9 205.4,399.1 206.4,397.1 207.4,395.0 208.4,392.8 209.4,390.4 210.4,388.0 211.4,385.5 212.4,383.0 213.4,380.6 214.4,378.2 215.4,376.0 216.4,373.9 217.4,372.0 218.4,370.4 219.4,369.1 220.4,368.2 221.4,367.5 222.4,367.3 223.4,367.4 224.4,367.9 225.4,368.8 226.4,370.0 227.4,371.5 228.4,373.3 229.4,375.3 230.4,377.5 231.4,379.9 232.4,382.3 233.4,384.8 234.4,387.2 235.4,389.7 236.4,392.1 237.4,394.3 238.4,396.5 239.4,398.5 240.4,400.4 241.4,402.1 242.4,403.6 243.4,405.0 244.4,406.2 245.4,407.3 246.4,408.2 247.4,409.0 248.4,409.7 249.4,410.2 250.4,410.7 251.4,411.1 252.4,411.4 253.4,411.7 254.4,411.9 255.4,412.1 256.4,412.2 257.4,412.3 258.4,412.4 259.4,412.5 260.4,412.5 261.4,412.6 L261.4,413.7 Z" fill="rgba(0,150,30,0.40)"/><path d="M183.4,413.7 L183.4,412.6 184.4,412.5 185.4,412.5 186.4,412.4 187.4,412.4 188.4,412.3 189.4,412.1 190.4,412.0 191.4,411.8 192.4,411.5 193.4,411.2 194.4,410.8 195.4,410.4 196.4,409.9 197.4,409.2 198.4,408.5 199.4,407.6 200.4,406.6 201.4,405.4 202.4,404.1 203.4,402.6 204.4,400.9 205.4,399.1 206.4,397.1 207.4,395.0 208.4,392.8 209.4,390.4 210.4,388.0 211.4,385.5 212.4,383.0 213.4,380.6 214.4,378.2 215.4,376.0 216.4,373.9 217.4,372.0 218.4,370.4 219.4,369.1 220.4,368.2 221.4,367.5 222.4,367.3 223.4,367.4 224.4,367.9 225.4,368.8 226.4,370.0 227.4,371.5 228.4,373.3 229.4,375.3 230.4,377.5 231.4,379.9 232.4,382.3 233.4,384.8 234.4,387.2 235.4,389.7 236.4,392.1 237.4,394.3 238.4,396.5 239.4,398.5 240.4,400.4 241.4,402.1 242.4,403.6 243.4,405.0 244.4,406.2 245.4,407.3 246.4,408.2 247.4,409.0 248.4,409.7 249.4,410.2 250.4,410.7 251.4,411.1 252.4,411.4 253.4,411.7 254.4,411.9 255.4,412.1 256.4,412.2 257.4,412.3 258.4,412.4 259.4,412.5 260.4,412.5 261.4,412.6 L261.4,413.7 Z" fill="url(#hg)" stroke="#0b8a2a" stroke-width="1.1"/>
<path d="M289.4,413.7 L289.4,412.6 290.4,412.5 291.4,412.4 292.4,412.3 293.4,412.2 294.4,412.0 295.4,411.7 296.4,411.3 297.4,410.8 298.4,410.1 299.4,409.2 300.4,408.1 301.4,406.7 302.4,405.0 303.4,403.0 304.4,400.6 305.4,398.0 306.4,395.2 307.4,392.2 308.4,389.1 309.4,386.0 310.4,383.1 311.4,380.5 312.4,378.3 313.4,376.7 314.4,375.8 315.4,375.5 316.4,376.0 317.4,377.1 318.4,378.9 319.4,381.3 320.4,384.0 321.4,386.9 322.4,390.0 323.4,393.1 324.4,396.1 325.4,398.8 326.4,401.4 327.4,403.6 328.4,405.5 329.4,407.1 330.4,408.4 331.4,409.5 332.4,410.3 333.4,411.0 334.4,411.4 335.4,411.8 336.4,412.1 337.4,412.2 338.4,412.4 339.4,412.5 340.4,412.5 341.4,412.6 L341.4,413.7 Z" fill="rgba(0,150,30,0.40)"/><path d="M289.4,413.7 L289.4,412.6 290.4,412.5 291.4,412.4 292.4,412.3 293.4,412.2 294.4,412.0 295.4,411.7 296.4,411.3 297.4,410.8 298.4,410.1 299.4,409.2 300.4,408.1 301.4,406.7 302.4,405.0 303.4,403.0 304.4,400.6 305.4,398.0 306.4,395.2 307.4,392.2 308.4,389.1 309.4,386.0 310.4,383.1 311.4,380.5 312.4,378.3 313.4,376.7 314.4,375.8 315.4,375.5 316.4,376.0 317.4,377.1 318.4,378.9 319.4,381.3 320.4,384.0 321.4,386.9 322.4,390.0 323.4,393.1 324.4,396.1 325.4,398.8 326.4,401.4 327.4,403.6 328.4,405.5 329.4,407.1 330.4,408.4 331.4,409.5 332.4,410.3 333.4,411.0 334.4,411.4 335.4,411.8 336.4,412.1 337.4,412.2 338.4,412.4 339.4,412.5 340.4,412.5 341.4,412.6 L341.4,413.7 Z" fill="url(#hg)" stroke="#0b8a2a" stroke-width="1.1"/>
<path d="M360.4,413.7 L360.4,412.6 361.4,412.5 362.4,412.5 363.4,412.5 364.4,412.5 365.4,412.5 366.4,412.5 367.4,412.5 368.4,412.5 369.4,412.5 370.4,412.5 371.4,412.5 372.4,412.5 373.4,412.5 374.4,412.5 375.4,412.5 376.4,412.5 377.4,412.5 378.4,412.4 379.4,412.4 380.4,412.4 381.4,412.4 382.4,412.4 383.4,412.4 384.4,412.4 385.4,412.4 386.4,412.4 387.4,412.4 388.4,412.3 389.4,412.3 390.4,412.3 391.4,412.3 392.4,412.3 393.4,412.2 394.4,412.2 395.4,412.2 396.4,412.1 397.4,412.1 398.4,412.1 399.4,412.0 400.4,412.0 401.4,411.9 402.4,411.8 403.4,411.7 404.4,411.7 405.4,411.5 406.4,411.4 407.4,411.3 408.4,411.1 409.4,411.0 410.4,410.8 411.4,410.6 412.4,410.3 413.4,410.1 414.4,409.7 415.4,409.4 416.4,409.0 417.4,408.6 418.4,408.1 419.4,407.6 420.4,407.0 421.4,406.4 422.4,405.7 423.4,404.9 424.4,404.1 425.4,403.2 426.4,402.2 427.4,401.1 428.4,400.0 429.4,398.7 430.4,397.4 431.4,395.9 432.4,394.4 433.4,392.8 434.4,391.0 435.4,389.2 436.4,387.2 437.4,385.2 438.4,383.1 439.4,380.9 440.4,378.5 441.4,376.2 442.4,373.7 443.4,371.1 444.4,368.5 445.4,365.9 446.4,363.2 447.4,360.4 448.4,357.7 449.4,354.9 450.4,352.1 451.4,349.4 452.4,346.7 453.4,344.1 454.4,341.5 455.4,339.0 456.4,336.6 457.4,334.3 458.4,332.2 459.4,330.2 460.4,328.3 461.4,326.6 462.4,325.2 463.4,323.9 464.4,322.8 465.4,322.0 466.4,321.3 467.4,321.0 468.4,320.8 469.4,320.9 470.4,321.2 471.4,321.8 472.4,322.5 473.4,323.5 474.4,324.8 475.4,326.2 476.4,327.8 477.4,329.6 478.4,331.5 479.4,333.6 480.4,335.9 481.4,338.3 482.4,340.7 483.4,343.3 484.4,345.9 485.4,348.6 486.4,351.3 487.4,354.1 488.4,356.8 489.4,359.6 490.4,362.3 491.4,365.1 492.4,367.7 493.4,370.4 494.4,372.9 495.4,375.4 496.4,377.8 497.4,380.2 498.4,382.4 499.4,384.6 500.4,386.6 501.4,388.6 502.4,390.5 503.4,392.2 504.4,393.9 505.4,395.5 506.4,396.9 507.4,398.3 508.4,399.6 509.4,400.8 510.4,401.9 511.4,402.9 512.5,403.8 513.5,404.7 514.5,405.5 515.5,406.2 516.5,406.8 517.5,407.4 518.5,408.0 519.5,408.5 520.5,408.9 521.5,409.3 522.5,409.6 523.5,410.0 524.5,410.2 525.5,410.5 526.5,410.7 527.5,410.9 528.5,411.1 529.5,411.3 530.5,411.4 531.5,411.5 532.5,411.6 533.5,411.7 534.5,411.8 535.5,411.9 536.5,411.9 537.5,412.0 538.5,412.0 539.5,412.1 540.5,412.1 541.5,412.2 L541.5,413.7 Z" fill="rgba(0,150,30,0.40)"/><path d="M360.4,413.7 L360.4,412.6 361.4,412.5 362.4,412.5 363.4,412.5 364.4,412.5 365.4,412.5 366.4,412.5 367.4,412.5 368.4,412.5 369.4,412.5 370.4,412.5 371.4,412.5 372.4,412.5 373.4,412.5 374.4,412.5 375.4,412.5 376.4,412.5 377.4,412.5 378.4,412.4 379.4,412.4 380.4,412.4 381.4,412.4 382.4,412.4 383.4,412.4 384.4,412.4 385.4,412.4 386.4,412.4 387.4,412.4 388.4,412.3 389.4,412.3 390.4,412.3 391.4,412.3 392.4,412.3 393.4,412.2 394.4,412.2 395.4,412.2 396.4,412.1 397.4,412.1 398.4,412.1 399.4,412.0 400.4,412.0 401.4,411.9 402.4,411.8 403.4,411.7 404.4,411.7 405.4,411.5 406.4,411.4 407.4,411.3 408.4,411.1 409.4,411.0 410.4,410.8 411.4,410.6 412.4,410.3 413.4,410.1 414.4,409.7 415.4,409.4 416.4,409.0 417.4,408.6 418.4,408.1 419.4,407.6 420.4,407.0 421.4,406.4 422.4,405.7 423.4,404.9 424.4,404.1 425.4,403.2 426.4,402.2 427.4,401.1 428.4,400.0 429.4,398.7 430.4,397.4 431.4,395.9 432.4,394.4 433.4,392.8 434.4,391.0 435.4,389.2 436.4,387.2 437.4,385.2 438.4,383.1 439.4,380.9 440.4,378.5 441.4,376.2 442.4,373.7 443.4,371.1 444.4,368.5 445.4,365.9 446.4,363.2 447.4,360.4 448.4,357.7 449.4,354.9 450.4,352.1 451.4,349.4 452.4,346.7 453.4,344.1 454.4,341.5 455.4,339.0 456.4,336.6 457.4,334.3 458.4,332.2 459.4,330.2 460.4,328.3 461.4,326.6 462.4,325.2 463.4,323.9 464.4,322.8 465.4,322.0 466.4,321.3 467.4,321.0 468.4,320.8 469.4,320.9 470.4,321.2 471.4,321.8 472.4,322.5 473.4,323.5 474.4,324.8 475.4,326.2 476.4,327.8 477.4,329.6 478.4,331.5 479.4,333.6 480.4,335.9 481.4,338.3 482.4,340.7 483.4,343.3 484.4,345.9 485.4,348.6 486.4,351.3 487.4,354.1 488.4,356.8 489.4,359.6 490.4,362.3 491.4,365.1 492.4,367.7 493.4,370.4 494.4,372.9 495.4,375.4 496.4,377.8 497.4,380.2 498.4,382.4 499.4,384.6 500.4,386.6 501.4,388.6 502.4,390.5 503.4,392.2 504.4,393.9 505.4,395.5 506.4,396.9 507.4,398.3 508.4,399.6 509.4,400.8 510.4,401.9 511.4,402.9 512.5,403.8 513.5,404.7 514.5,405.5 515.5,406.2 516.5,406.8 517.5,407.4 518.5,408.0 519.5,408.5 520.5,408.9 521.5,409.3 522.5,409.6 523.5,410.0 524.5,410.2 525.5,410.5 526.5,410.7 527.5,410.9 528.5,411.1 529.5,411.3 530.5,411.4 531.5,411.5 532.5,411.6 533.5,411.7 534.5,411.8 535.5,411.9 536.5,411.9 537.5,412.0 538.5,412.0 539.5,412.1 540.5,412.1 541.5,412.2 L541.5,413.7 Z" fill="url(#hg)" stroke="#0b8a2a" stroke-width="1.1"/>
<path d="M106.5,413.7 L106.5,412.6 107.5,412.5 108.5,412.5 109.5,412.5 110.5,412.5 111.5,412.5 112.5,412.5 113.5,412.4 114.5,412.4 115.5,412.4 116.5,412.3 117.5,412.3 118.5,412.3 119.5,412.2 120.5,412.1 121.5,412.1 122.5,412.0 123.5,411.9 124.5,411.8 125.5,411.6 126.5,411.5 127.5,411.3 128.4,411.1 129.4,410.9 130.4,410.6 131.4,410.3 132.4,410.0 133.4,409.6 134.4,409.2 135.4,408.7 136.4,408.2 137.4,407.6 138.4,406.9 139.4,406.2 140.4,405.4 141.4,404.5 142.4,403.5 143.4,402.5 144.4,401.3 145.4,400.0 146.4,398.7 147.4,397.2 148.4,395.6 149.4,393.9 150.4,392.1 151.4,390.1 152.4,388.1 153.4,385.9 154.4,383.6 155.4,381.2 156.4,378.7 157.4,376.0 158.4,373.3 159.4,370.5 160.4,367.6 161.4,364.7 162.4,361.7 163.4,358.7 164.4,355.6 165.4,352.5 166.4,349.5 167.4,346.4 168.4,343.5 169.4,340.5 170.4,337.7 171.4,335.0 172.4,332.3 173.4,329.9 174.4,327.6 175.4,325.4 176.4,323.5 177.4,321.8 178.4,320.3 179.4,319.0 180.4,318.0 181.4,317.3 182.4,316.8 183.4,316.6 184.4,316.7 185.4,317.0 186.4,317.6 187.4,318.5 188.4,319.7 189.4,321.1 190.4,322.7 191.4,324.6 192.4,326.7 193.4,329.0 194.4,331.4 195.4,334.0 196.4,336.7 197.4,339.5 198.4,342.5 199.4,345.5 200.4,348.5 201.4,351.6 202.4,354.7 203.4,357.8 204.4,360.9 205.4,363.9 206.4,366.9 207.4,369.9 208.4,372.7 209.4,375.5 210.4,378.1 211.4,380.7 212.4,383.2 213.4,385.5 214.4,387.7 215.4,389.8 216.4,391.8 217.4,393.7 218.4,395.4 219.4,397.0 220.4,398.6 221.4,399.9 222.4,401.2 223.4,402.4 224.4,403.5 225.4,404.5 226.4,405.4 227.4,406.2 228.4,406.9 229.4,407.6 230.4,408.2 231.4,408.7 232.4,409.2 233.4,409.6 234.4,410.0 235.4,410.3 236.4,410.6 237.4,410.9 238.4,411.1 239.4,411.3 240.4,411.5 241.4,411.6 242.4,411.8 243.4,411.9 244.4,412.0 245.4,412.1 246.4,412.2 247.4,412.2 248.4,412.3 249.4,412.3 250.4,412.4 251.4,412.4 252.4,412.4 253.4,412.5 254.4,412.5 255.4,412.5 256.4,412.5 257.4,412.5 258.4,412.5 259.4,412.6 L259.4,413.7 Z" fill="url(#hb2)"/><path d="M106.5,413.7 L106.5,412.6 107.5,412.5 108.5,412.5 109.5,412.5 110.5,412.5 111.5,412.5 112.5,412.5 113.5,412.4 114.5,412.4 115.5,412.4 116.5,412.3 117.5,412.3 118.5,412.3 119.5,412.2 120.5,412.1 121.5,412.1 122.5,412.0 123.5,411.9 124.5,411.8 125.5,411.6 126.5,411.5 127.5,411.3 128.4,411.1 129.4,410.9 130.4,410.6 131.4,410.3 132.4,410.0 133.4,409.6 134.4,409.2 135.4,408.7 136.4,408.2 137.4,407.6 138.4,406.9 139.4,406.2 140.4,405.4 141.4,404.5 142.4,403.5 143.4,402.5 144.4,401.3 145.4,400.0 146.4,398.7 147.4,397.2 148.4,395.6 149.4,393.9 150.4,392.1 151.4,390.1 152.4,388.1 153.4,385.9 154.4,383.6 155.4,381.2 156.4,378.7 157.4,376.0 158.4,373.3 159.4,370.5 160.4,367.6 161.4,364.7 162.4,361.7 163.4,358.7 164.4,355.6 165.4,352.5 166.4,349.5 167.4,346.4 168.4,343.5 169.4,340.5 170.4,337.7 171.4,335.0 172.4,332.3 173.4,329.9 174.4,327.6 175.4,325.4 176.4,323.5 177.4,321.8 178.4,320.3 179.4,319.0 180.4,318.0 181.4,317.3 182.4,316.8 183.4,316.6 184.4,316.7 185.4,317.0 186.4,317.6 187.4,318.5 188.4,319.7 189.4,321.1 190.4,322.7 191.4,324.6 192.4,326.7 193.4,329.0 194.4,331.4 195.4,334.0 196.4,336.7 197.4,339.5 198.4,342.5 199.4,345.5 200.4,348.5 201.4,351.6 202.4,354.7 203.4,357.8 204.4,360.9 205.4,363.9 206.4,366.9 207.4,369.9 208.4,372.7 209.4,375.5 210.4,378.1 211.4,380.7 212.4,383.2 213.4,385.5 214.4,387.7 215.4,389.8 216.4,391.8 217.4,393.7 218.4,395.4 219.4,397.0 220.4,398.6 221.4,399.9 222.4,401.2 223.4,402.4 224.4,403.5 225.4,404.5 226.4,405.4 227.4,406.2 228.4,406.9 229.4,407.6 230.4,408.2 231.4,408.7 232.4,409.2 233.4,409.6 234.4,410.0 235.4,410.3 236.4,410.6 237.4,410.9 238.4,411.1 239.4,411.3 240.4,411.5 241.4,411.6 242.4,411.8 243.4,411.9 244.4,412.0 245.4,412.1 246.4,412.2 247.4,412.2 248.4,412.3 249.4,412.3 250.4,412.4 251.4,412.4 252.4,412.4 253.4,412.5 254.4,412.5 255.4,412.5 256.4,412.5 257.4,412.5 258.4,412.5 259.4,412.6 L259.4,413.7 Z" fill="rgba(255,150,30,0.50)" stroke="#ff9a2e" stroke-width="1"/>
</g>
<g opacity="0.2"><line x1="57.1" y1="413.7" x2="57.1" y2="409.2" stroke="#000" stroke-width="1.6"/><line x1="87.8" y1="413.7" x2="87.8" y2="405.09999999999997" stroke="#000" stroke-width="1.6"/><line x1="118.5" y1="413.7" x2="118.5" y2="409.2" stroke="#000" stroke-width="1.6"/><line x1="149.1" y1="413.7" x2="149.1" y2="405.09999999999997" stroke="#000" stroke-width="1.6"/><line x1="179.8" y1="413.7" x2="179.8" y2="409.2" stroke="#000" stroke-width="1.6"/><line x1="210.4" y1="413.7" x2="210.4" y2="405.09999999999997" stroke="#000" stroke-width="1.6"/><line x1="241.1" y1="413.7" x2="241.1" y2="409.2" stroke="#000" stroke-width="1.6"/><line x1="271.7" y1="413.7" x2="271.7" y2="405.09999999999997" stroke="#000" stroke-width="1.6"/><line x1="302.3" y1="413.7" x2="302.3" y2="409.2" stroke="#000" stroke-width="1.6"/><line x1="333.0" y1="413.7" x2="333.0" y2="405.09999999999997" stroke="#000" stroke-width="1.6"/><line x1="363.7" y1="413.7" x2="363.7" y2="409.2" stroke="#000" stroke-width="1.6"/><line x1="394.3" y1="413.7" x2="394.3" y2="405.09999999999997" stroke="#000" stroke-width="1.6"/><line x1="424.9" y1="413.7" x2="424.9" y2="409.2" stroke="#000" stroke-width="1.6"/><line x1="455.6" y1="413.7" x2="455.6" y2="405.09999999999997" stroke="#000" stroke-width="1.6"/><line x1="486.2" y1="413.7" x2="486.2" y2="409.2" stroke="#000" stroke-width="1.6"/><line x1="516.9" y1="413.7" x2="516.9" y2="405.09999999999997" stroke="#000" stroke-width="1.6"/></g>
<g clip-path="url(#plot)"><path d="M36.45,406.9 L36.95,406.8 L37.45,406.6 L37.95,406.3 L38.45,406.1 L38.95,405.8 L39.45,405.5 L39.95,405.1 L40.45,404.8 L40.95,404.3 L41.45,403.9 L41.95,403.3 L42.45,402.7 L42.95,402.0 L43.45,401.1 L43.95,400.1 L44.45,398.9 L44.95,397.7 L45.45,396.2 L45.95,394.5 L46.45,392.8 L46.95,391.2 L47.45,389.7 L47.95,388.1 L48.45,386.2 L48.95,384.0 L49.45,381.3 L49.95,378.3 L50.45,374.9 L50.95,371.3 L51.45,367.5 L51.95,363.6 L52.45,359.5 L52.95,355.4 L53.45,351.2 L53.95,347.1 L54.45,342.8 L54.95,338.3 L55.45,333.6 L55.95,328.7 L56.45,323.8 L56.95,318.9 L57.45,313.9 L57.95,309.0 L58.45,304.2 L58.95,299.5 L59.45,294.8 L59.95,290.0 L60.45,285.1 L60.95,280.2 L61.45,275.3 L61.95,270.6 L62.45,265.9 L62.95,261.5 L63.45,257.3 L63.95,253.4 L64.45,249.9 L64.95,246.6 L65.45,243.5 L65.95,240.4 L66.45,237.7 L66.95,235.4 L67.45,233.7 L67.95,232.5 L68.45,231.4 L68.95,230.6 L69.45,230.2 L69.95,230.3 L70.45,230.9 L70.95,231.8 L71.45,233.0 L71.95,234.3 L72.45,236.3 L72.95,238.8 L73.45,241.7 L73.95,244.8 L74.45,248.0 L74.95,251.1 L75.45,254.5 L75.95,258.0 L76.45,261.8 L76.95,265.7 L77.45,269.8 L77.95,274.0 L78.45,278.3 L78.95,282.8 L79.45,287.3 L79.95,291.9 L80.45,296.7 L80.95,301.5 L81.45,306.7 L81.95,312.4 L82.45,318.4 L82.95,324.5 L83.45,330.6 L83.95,336.5 L84.45,342.0 L84.95,347.0 L85.45,351.3 L85.95,355.5 L86.45,359.6 L86.95,363.6 L87.45,367.4 L87.95,371.1 L88.45,374.5 L88.95,377.7 L89.45,380.6 L89.95,383.3 L90.45,385.6 L90.95,387.6 L91.45,389.5 L91.95,391.4 L92.45,393.1 L92.95,394.8 L93.45,396.4 L93.95,397.9 L94.45,399.3 L94.95,400.6 L95.45,401.8 L95.95,402.9 L96.45,403.9 L96.95,404.9 L97.45,405.7 L97.95,406.5 L98.45,407.3 L98.95,408.0 L99.45,408.7 L99.95,409.3 L100.45,409.9 L100.95,410.3 L101.45,410.7 L101.95,410.9 L102.45,411.0 L102.95,411.1 L103.45,411.2 L103.95,411.3 L104.45,411.4 L104.95,411.5 L105.45,411.6 L105.95,411.7 L106.45,411.8 L106.95,411.8 L107.45,411.9 L107.95,412.0 L108.45,412.1 L108.95,412.1 L109.45,412.2 L109.95,412.2 L110.45,412.3 L110.95,412.3 L111.45,412.4 L111.95,412.4 L112.45,412.5 L112.95,412.5 L113.45,412.5 L113.95,412.6 L114.45,412.6 L114.95,412.6 L115.45,412.6 L115.95,412.7 L116.45,412.7 L116.95,412.7 L117.45,412.7 L117.95,412.7 L118.45,412.7 L118.95,412.7 L119.45,412.7 L119.95,412.6 L120.45,412.5 L120.95,412.4 L121.45,412.3 L121.95,412.2 L122.45,412.0 L122.95,411.9 L123.45,411.7 L123.95,411.6 L124.45,411.4 L124.95,411.3 L125.45,411.2 L125.95,411.2 L126.45,411.1 L126.95,411.0 L127.45,410.9 L127.95,410.8 L128.45,410.7 L128.95,410.6 L129.45,410.5 L129.95,410.4 L130.45,410.2 L130.95,410.1 L131.45,409.9 L131.95,409.8 L132.45,409.6 L132.95,409.4 L133.45,409.2 L133.95,409.0 L134.45,408.8 L134.95,408.5 L135.45,408.3 L135.95,408.0 L136.45,407.8 L136.95,407.5 L137.45,407.2 L137.95,406.8 L138.45,406.5 L138.95,406.1 L139.45,405.8 L139.95,405.4 L140.45,405.0 L140.95,404.5 L141.45,404.1 L141.95,403.6 L142.45,403.1 L142.95,402.6 L143.45,402.0 L143.95,401.4 L144.45,400.8 L144.95,400.2 L145.45,399.6 L145.95,398.9 L146.45,398.2 L146.95,397.5 L147.45,396.7 L147.95,395.9 L148.45,395.1 L148.95,394.3 L149.45,393.4 L149.95,392.5 L150.45,391.6 L150.95,390.6 L151.45,389.6 L151.95,388.6 L152.45,387.5 L152.95,386.5 L153.45,385.3 L153.95,384.2 L154.45,383.0 L154.95,381.8 L155.45,380.6 L155.95,379.4 L156.45,378.1 L156.95,376.8 L157.45,375.5 L157.95,374.1 L158.45,372.8 L158.95,371.4 L159.45,369.9 L159.95,368.5 L160.45,367.1 L160.95,365.6 L161.45,364.1 L161.95,362.6 L162.45,361.1 L162.95,359.6 L163.45,358.1 L163.95,356.5 L164.45,355.0 L164.95,353.5 L165.45,351.9 L165.95,350.4 L166.45,348.8 L166.95,347.3 L167.45,345.8 L167.95,344.3 L168.45,342.8 L168.95,341.3 L169.45,339.9 L169.95,338.4 L170.45,337.0 L170.95,335.6 L171.45,334.3 L171.95,332.9 L172.45,331.6 L172.95,330.4 L173.45,329.2 L173.95,328.0 L174.45,326.8 L174.95,325.7 L175.45,324.7 L175.95,323.7 L176.45,322.8 L176.95,321.9 L177.45,321.0 L177.95,320.2 L178.45,319.5 L178.95,318.8 L179.45,318.2 L179.95,317.6 L180.45,317.0 L180.95,316.6 L181.45,316.2 L181.95,316.1 L182.45,316.1 L182.95,316.1 L183.45,316.2 L183.95,316.3 L184.45,316.4 L184.95,316.5 L185.45,316.7 L185.95,316.9 L186.45,317.0 L186.95,317.2 L187.45,317.5 L187.95,317.9 L188.45,318.4 L188.95,319.0 L189.45,319.7 L189.95,320.4 L190.45,321.1 L190.95,321.8 L191.45,322.6 L191.95,323.4 L192.45,324.3 L192.95,325.3 L193.45,326.3 L193.95,327.3 L194.45,328.3 L194.95,329.4 L195.45,330.5 L195.95,331.7 L196.45,333.0 L196.95,334.2 L197.45,335.4 L197.95,336.5 L198.45,337.5 L198.95,338.5 L199.45,339.6 L199.95,340.5 L200.45,341.5 L200.95,342.3 L201.45,343.1 L201.95,343.8 L202.45,344.4 L202.95,344.9 L203.45,345.5 L203.95,346.0 L204.45,346.4 L204.95,346.8 L205.45,347.0 L205.95,347.2 L206.45,347.4 L206.95,347.5 L207.45,347.7 L207.95,347.7 L208.45,347.8 L208.95,347.8 L209.45,347.7 L209.95,347.6 L210.45,347.4 L210.95,347.1 L211.45,346.9 L211.95,346.6 L212.45,346.3 L212.95,345.9 L213.45,345.4 L213.95,344.9 L214.45,344.5 L214.95,344.0 L215.45,343.5 L215.95,343.1 L216.45,342.6 L216.95,342.1 L217.45,341.6 L217.95,341.1 L218.45,340.6 L218.95,340.0 L219.45,339.4 L219.95,338.7 L220.45,338.1 L220.95,337.4 L221.45,336.7 L221.95,336.0 L222.45,335.3 L222.95,334.6 L223.45,333.9 L223.95,333.2 L224.45,332.6 L224.95,331.9 L225.45,331.3 L225.95,330.6 L226.45,330.0 L226.95,329.3 L227.45,328.6 L227.95,327.9 L228.45,327.2 L228.95,326.5 L229.45,325.7 L229.95,325.0 L230.45,324.3 L230.95,323.6 L231.45,322.9 L231.95,322.2 L232.45,321.6 L232.95,320.9 L233.45,320.2 L233.95,319.4 L234.45,318.6 L234.95,317.7 L235.45,316.8 L235.95,315.8 L236.45,314.8 L236.95,313.7 L237.45,312.7 L237.95,311.6 L238.45,310.5 L238.95,309.4 L239.45,308.1 L239.95,306.8 L240.45,305.2 L240.95,303.7 L241.45,302.0 L241.95,300.3 L242.45,298.5 L242.95,296.7 L243.45,294.9 L243.95,293.1 L244.45,291.4 L244.95,289.5 L245.45,287.7 L245.95,285.8 L246.45,283.8 L246.95,281.7 L247.45,279.2 L247.95,276.1 L248.45,272.7 L248.95,269.3 L249.45,266.0 L249.95,262.5 L250.45,258.9 L250.95,255.1 L251.45,250.9 L251.95,245.8 L252.45,240.3 L252.95,234.9 L253.45,230.5 L253.95,226.7 L254.45,223.3 L254.95,220.0 L255.45,216.7 L255.95,213.1 L256.45,209.1 L256.95,204.5 L257.45,198.4 L257.95,192.6 L258.45,187.9 L258.95,183.3 L259.45,178.2 L259.95,172.7 L260.45,168.6 L260.95,165.6 L261.45,163.0 L261.95,160.8 L262.45,158.3 L262.95,156.0 L263.45,154.7 L263.95,155.1 L264.45,157.0 L264.95,159.7 L265.45,162.4 L265.95,166.0 L266.45,170.0 L266.95,174.5 L267.45,179.4 L267.95,184.4 L268.45,189.7 L268.95,194.7 L269.45,199.3 L269.95,203.7 L270.45,207.8 L270.95,211.6 L271.45,215.8 L271.95,220.1 L272.45,224.4 L272.95,228.4 L273.45,232.0 L273.95,235.7 L274.45,239.5 L274.95,243.2 L275.45,246.6 L275.95,249.3 L276.45,251.0 L276.95,251.6 L277.45,251.0 L277.95,249.6 L278.45,247.5 L278.95,244.9 L279.45,241.9 L279.95,238.6 L280.45,235.3 L280.95,232.0 L281.45,228.6 L281.95,224.8 L282.45,220.5 L282.95,215.8 L283.45,210.7 L283.95,204.4 L284.45,198.5 L284.95,192.2 L285.45,185.4 L285.95,178.4 L286.45,171.6 L286.95,165.3 L287.45,159.2 L287.95,152.5 L288.45,145.6 L288.95,139.4 L289.45,133.7 L289.95,128.8 L290.45,124.3 L290.95,119.3 L291.45,114.0 L291.95,109.2 L292.45,104.9 L292.95,101.1 L293.45,98.0 L293.95,95.8 L294.45,93.8 L294.95,92.6 L295.45,92.6 L295.95,93.8 L296.45,95.8 L296.95,98.0 L297.45,101.2 L297.95,105.1 L298.45,109.2 L298.95,113.3 L299.45,117.6 L299.95,122.4 L300.45,127.6 L300.95,133.5 L301.45,140.4 L301.95,152.5 L302.45,166.2 L302.95,176.9 L303.45,187.1 L303.95,197.0 L304.45,205.8 L304.95,213.7 L305.45,222.4 L305.95,230.9 L306.45,238.9 L306.95,246.4 L307.45,252.8 L307.95,257.7 L308.45,261.9 L308.95,265.9 L309.45,270.5 L309.95,276.1 L310.45,282.4 L310.95,288.6 L311.45,294.2 L311.95,299.3 L312.45,304.2 L312.95,309.3 L313.45,314.9 L313.95,321.0 L314.45,327.1 L314.95,332.8 L315.45,338.6 L315.95,344.3 L316.45,349.8 L316.95,354.7 L317.45,358.9 L317.95,362.2 L318.45,365.0 L318.95,367.5 L319.45,369.9 L319.95,372.4 L320.45,375.0 L320.95,377.8 L321.45,380.4 L321.95,382.9 L322.45,385.2 L322.95,387.2 L323.45,389.0 L323.95,390.7 L324.45,392.3 L324.95,393.8 L325.45,395.2 L325.95,396.6 L326.45,397.9 L326.95,399.2 L327.45,400.5 L327.95,401.7 L328.45,402.8 L328.95,403.9 L329.45,404.9 L329.95,405.7 L330.45,406.5 L330.95,407.2 L331.45,408.0 L331.95,408.6 L332.45,409.2 L332.95,409.7 L333.45,410.1 L333.95,410.4 L334.45,410.7 L334.95,411.0 L335.45,411.3 L335.95,411.6 L336.45,411.8 L336.95,412.0 L337.45,412.1 L337.95,412.1 L338.45,412.1 L338.95,412.1 L339.45,412.1 L339.95,412.1 L340.45,412.1 L340.95,412.1 L341.45,412.1 L341.95,412.1 L342.45,412.1 L342.95,412.1 L343.45,412.0 L343.95,412.0 L344.45,411.9 L344.95,411.8 L345.45,411.7 L345.95,411.5 L346.45,411.4 L346.95,411.3 L347.45,411.1 L347.95,411.0 L348.45,410.8 L348.95,410.7 L349.45,410.5 L349.95,410.3 L350.45,410.0 L350.95,409.8 L351.45,409.5 L351.95,409.3 L352.45,409.0 L352.95,408.7 L353.45,408.4 L353.95,408.0 L354.45,407.7 L354.95,407.3 L355.45,406.9 L355.95,406.4 L356.45,405.9 L356.95,405.4 L357.45,404.9 L357.95,404.3 L358.45,403.7 L358.95,403.2 L359.45,402.6 L359.95,402.0 L360.45,401.4 L360.95,400.8 L361.45,400.2 L361.95,399.6 L362.45,398.9 L362.95,398.2 L363.45,397.5 L363.95,396.8 L364.45,396.0 L364.95,395.2 L365.45,394.4 L365.95,393.5 L366.45,392.6 L366.95,391.7 L367.45,390.7 L367.95,389.8 L368.45,388.9 L368.95,388.0 L369.45,387.1 L369.95,386.2 L370.45,385.3 L370.95,384.4 L371.45,383.5 L371.95,382.6 L372.45,381.6 L372.95,380.7 L373.45,379.7 L373.95,378.6 L374.45,377.6 L374.95,376.4 L375.45,375.3 L375.95,374.0 L376.45,372.6 L376.95,371.2 L377.45,369.8 L377.95,368.3 L378.45,366.9 L378.95,365.4 L379.45,363.9 L379.95,362.3 L380.45,360.8 L380.95,359.2 L381.45,357.6 L381.95,356.0 L382.45,354.3 L382.95,352.6 L383.45,350.9 L383.95,349.2 L384.45,347.5 L384.95,345.7 L385.45,344.0 L385.95,342.2 L386.45,340.4 L386.95,338.6 L387.45,336.8 L387.95,335.0 L388.45,333.2 L388.95,331.4 L389.45,329.6 L389.95,327.7 L390.45,325.9 L390.95,324.1 L391.45,322.3 L391.95,320.5 L392.45,318.7 L392.95,316.9 L393.45,315.2 L393.95,313.4 L394.45,311.7 L394.95,310.0 L395.45,308.3 L395.95,306.6 L396.45,305.0 L396.95,303.4 L397.45,301.8 L397.95,300.2 L398.45,298.7 L398.95,297.2 L399.45,295.8 L399.95,294.3 L400.45,293.0 L400.95,291.6 L401.45,290.3 L401.95,289.2 L402.45,288.1 L402.95,287.0 L403.45,285.9 L403.95,284.9 L404.45,284.0 L404.95,283.1 L405.45,282.3 L405.95,281.6 L406.45,281.0 L406.95,280.3 L407.45,279.7 L407.95,279.0 L408.45,278.4 L408.95,277.8 L409.45,277.2 L409.95,276.7 L410.45,276.2 L410.95,275.8 L411.45,275.4 L411.95,275.1 L412.45,274.9 L412.95,274.8 L413.45,274.8 L413.95,274.9 L414.45,275.0 L414.95,275.2 L415.45,275.4 L415.95,275.7 L416.45,276.1 L416.95,276.5 L417.45,276.9 L417.95,277.4 L418.45,277.9 L418.95,278.5 L419.45,279.0 L419.95,279.6 L420.45,280.2 L420.95,280.8 L421.45,281.3 L421.95,282.0 L422.45,282.8 L422.95,283.7 L423.45,284.7 L423.95,285.7 L424.45,286.8 L424.95,288.0 L425.45,289.1 L425.95,290.3 L426.45,291.4 L426.95,292.4 L427.45,293.4 L427.95,294.3 L428.45,295.3 L428.95,296.2 L429.45,297.1 L429.95,298.0 L430.45,298.9 L430.95,299.7 L431.45,300.6 L431.95,301.4 L432.45,302.1 L432.95,302.8 L433.45,303.5 L433.95,304.1 L434.45,304.6 L434.95,305.2 L435.45,305.7 L435.95,306.3 L436.45,306.8 L436.95,307.3 L437.45,307.7 L437.95,308.2 L438.45,308.6 L438.95,309.0 L439.45,309.4 L439.95,309.8 L440.45,310.2 L440.95,310.5 L441.45,310.8 L441.95,311.1 L442.45,311.3 L442.95,311.6 L443.45,311.8 L443.95,312.1 L444.45,312.3 L444.95,312.6 L445.45,312.8 L445.95,313.0 L446.45,313.2 L446.95,313.4 L447.45,313.6 L447.95,313.7 L448.45,313.8 L448.95,314.0 L449.45,314.1 L449.95,314.2 L450.45,314.2 L450.95,314.3 L451.45,314.4 L451.95,314.4 L452.45,314.4 L452.95,314.4 L453.45,314.4 L453.95,314.3 L454.45,314.2 L454.95,314.2 L455.45,314.1 L455.95,314.0 L456.45,313.8 L456.95,313.7 L457.45,313.6 L457.95,313.4 L458.45,313.3 L458.95,313.2 L459.45,313.0 L459.95,312.9 L460.45,312.7 L460.95,312.5 L461.45,312.3 L461.95,312.1 L462.45,311.9 L462.95,311.6 L463.45,311.3 L463.95,311.0 L464.45,310.7 L464.95,310.4 L465.45,310.0 L465.95,309.6 L466.45,309.1 L466.95,308.5 L467.45,307.9 L467.95,307.2 L468.45,306.4 L468.95,305.6 L469.45,304.6 L469.95,303.3 L470.45,301.8 L470.95,300.0 L471.45,297.9 L471.95,295.1 L472.45,291.7 L472.95,287.7 L473.45,282.7 L473.95,277.4 L474.45,272.2 L474.95,266.8 L475.45,261.6 L475.95,256.5 L476.45,251.5 L476.95,247.1 L477.45,243.3 L477.95,238.1 L478.45,229.5 L478.95,219.6 L479.45,210.8 L479.95,202.9 L480.45,194.6 L480.95,184.6 L481.45,174.7 L481.95,165.9 L482.45,155.6 L482.95,145.2 L483.45,135.6 L483.95,128.2 L484.45,123.5 L484.95,118.6 L485.45,112.4 L485.95,106.3 L486.45,101.1 L486.95,96.1 L487.45,91.0 L487.95,86.0 L488.45,82.0 L488.95,78.6 L489.45,76.4 L489.95,77.0 L490.45,79.9 L490.95,83.4 L491.45,87.9 L491.95,93.1 L492.45,98.0 L492.95,103.1 L493.45,108.6 L493.95,114.4 L494.45,121.6 L494.95,131.0 L495.45,141.3 L495.95,151.5 L496.45,161.8 L496.95,172.0 L497.45,182.4 L497.95,193.5 L498.45,206.1 L498.95,218.7 L499.45,230.8 L499.95,244.5 L500.45,259.7 L500.95,270.1 L501.45,280.0 L501.95,290.3 L502.45,300.8 L502.95,311.2 L503.45,318.6 L503.95,324.2 L504.45,330.8 L504.95,340.6 L505.45,349.7 L505.95,357.0 L506.45,363.7 L506.95,369.2 L507.45,373.4 L507.95,376.3 L508.45,378.9 L508.95,381.2 L509.45,383.2 L509.95,385.0 L510.45,386.7 L510.95,388.1 L511.45,389.5 L511.95,390.9 L512.45,392.2 L512.95,393.4 L513.45,394.6 L513.95,395.6 L514.45,396.7 L514.95,397.6 L515.45,398.5 L515.95,399.4 L516.45,400.2 L516.95,400.9 L517.45,401.5 L517.95,402.2 L518.45,402.8 L518.95,403.4 L519.45,404.0 L519.95,404.6 L520.45,405.1 L520.95,405.6 L521.45,406.1 L521.95,406.5 L522.45,407.0 L522.95,407.4 L523.45,407.7 L523.95,408.0 L524.45,408.3 L524.95,408.6 L525.45,408.9 L525.95,409.2 L526.45,409.5 L526.95,409.7 L527.45,410.0 L527.95,410.2 L528.45,410.4 L528.95,410.6 L529.45,410.8 L529.95,411.0 L530.45,411.2 L530.95,411.3 L531.45,411.5 L531.95,411.6 L532.45,411.7 L532.95,411.8 L533.45,411.9 L533.95,412.0 L534.45,412.1 L534.95,412.2 L535.45,412.3 L535.95,412.4 L536.45,412.5 L536.95,412.6 L537.45,412.6 L537.95,412.7 L538.45,412.8 L538.95,412.8 L539.45,412.9 L539.95,412.9 L540.45,413.0 L540.95,413.0 L541.45,413.0 L541.95,413.0" fill="none" stroke="#990099" stroke-width="1.25" stroke-linejoin="round"/></g>
<rect x="36.45" y="6.9" width="505.55" height="406.8" fill="none" stroke="#000" stroke-width="2"/>
<text x="87.7" y="437.2" text-anchor="middle" font-size="19.3" font-family="Liberation Sans, Arial, Helvetica, sans-serif" font-weight="bold" fill="#000">915</text>
<text x="149.0" y="437.2" text-anchor="middle" font-size="19.3" font-family="Liberation Sans, Arial, Helvetica, sans-serif" font-weight="bold" fill="#000">910</text>
<text x="210.3" y="437.2" text-anchor="middle" font-size="19.3" font-family="Liberation Sans, Arial, Helvetica, sans-serif" font-weight="bold" fill="#000">905</text>
<text x="271.6" y="437.2" text-anchor="middle" font-size="19.3" font-family="Liberation Sans, Arial, Helvetica, sans-serif" font-weight="bold" fill="#000">900</text>
<text x="332.9" y="437.2" text-anchor="middle" font-size="19.3" font-family="Liberation Sans, Arial, Helvetica, sans-serif" font-weight="bold" fill="#000">895</text>
<text x="394.2" y="437.2" text-anchor="middle" font-size="19.3" font-family="Liberation Sans, Arial, Helvetica, sans-serif" font-weight="bold" fill="#000">890</text>
<text x="455.5" y="437.2" text-anchor="middle" font-size="19.3" font-family="Liberation Sans, Arial, Helvetica, sans-serif" font-weight="bold" fill="#000">885</text>
<text x="516.8" y="437.2" text-anchor="middle" font-size="19.3" font-family="Liberation Sans, Arial, Helvetica, sans-serif" font-weight="bold" fill="#000">880</text>
<text x="289.1" y="474.4" text-anchor="middle" font-size="23.25" font-family="Liberation Sans, Arial, Helvetica, sans-serif" font-weight="bold" fill="#000">Binding Energy (eV)</text>
<text transform="translate(24.5,199.5) rotate(-90) scale(1.065,1)" text-anchor="middle" font-size="23.4" font-family="Liberation Sans, Arial, Helvetica, sans-serif" font-weight="bold" fill="#000">Relative Intensity (a.u.)</text>
<text x="267.8" y="31.9" font-size="26" font-family="Liberation Sans, Arial, Helvetica, sans-serif" font-weight="bold" fill="#000">Ce<tspan x="310.9">3</tspan><tspan font-style="italic">d</tspan></text>
<text x="240.6" y="86.6" font-size="21" font-family="Liberation Sans, Arial, Helvetica, sans-serif" font-weight="bold" fill="#990099">Ce<tspan x="274.5">3</tspan><tspan font-style="italic">d</tspan><tspan font-size="12.1" dx="0.3" dy="8.1">3/2</tspan></text>
<text x="435.4" y="70.9" font-size="21" font-family="Liberation Sans, Arial, Helvetica, sans-serif" font-weight="bold" fill="#990099">Ce<tspan x="469.1">3</tspan><tspan font-style="italic">d</tspan><tspan font-size="12.1" dx="0.3" dy="8.0">5/2</tspan></text>
<rect x="38.2" y="8.8" width="106.4" height="61.8" fill="#fff" stroke="#777" stroke-width="1.2"/>
<rect x="46" y="17.8" width="46.8" height="22.7" fill="rgba(255,150,30,0.50)"/><rect x="46" y="17.8" width="46.8" height="22.7" fill="url(#hl)"/><rect x="46" y="17.8" width="46.8" height="22.7" fill="none" stroke="#c98d4e" stroke-width="1"/>
<rect x="46" y="47.3" width="46.8" height="23" fill="rgba(20,180,80,0.72)"/><rect x="46" y="47.3" width="46.8" height="23" fill="url(#hg2)"/><rect x="46" y="47.3" width="46.8" height="23" fill="none" stroke="#0b8a2a" stroke-width="1"/>
<text x="98.8" y="36.6" font-size="21.3" font-family="Liberation Sans, Arial, Helvetica, sans-serif" font-weight="bold" fill="#ff8010">Ce<tspan font-size="13.2" dx="0.6" dy="-8.9">4+</tspan></text>
<text x="98.8" y="66.4" font-size="21.3" font-family="Liberation Sans, Arial, Helvetica, sans-serif" font-weight="bold" fill="#088a14">Ce<tspan font-size="13.2" dx="0.6" dy="-10.9">3+</tspan></text>
</svg></body></html>
